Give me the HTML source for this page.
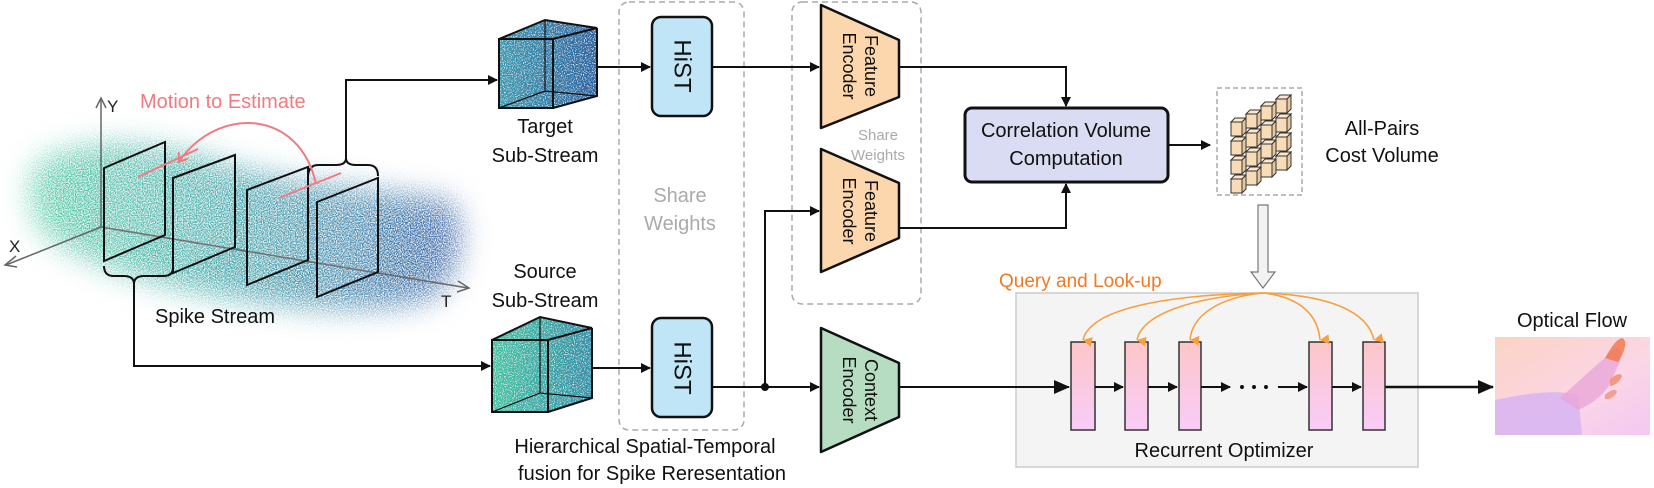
<!DOCTYPE html>
<html><head><meta charset="utf-8"><style>
html,body{margin:0;padding:0;background:#fff;}
svg{display:block;font-family:"Liberation Sans",sans-serif;}
</style></head><body>
<svg width="1654" height="488" viewBox="0 0 1654 488" xmlns="http://www.w3.org/2000/svg">
<defs>
<marker id="ah" markerWidth="10" markerHeight="10" refX="9" refY="5" orient="auto" markerUnits="userSpaceOnUse"><path d="M0,0 L10,5 L0,10 z" fill="#111"/></marker>
<marker id="ahb" markerWidth="16" markerHeight="14" refX="15" refY="7" orient="auto" markerUnits="userSpaceOnUse"><path d="M0,0 L16,7 L0,14 z" fill="#111"/></marker>
<marker id="ao" markerWidth="10" markerHeight="10" refX="5" refY="9" orient="auto-start-reverse" markerUnits="userSpaceOnUse"><path d="M0,0 L5,9 L10,0 z" fill="#f7a040"/></marker>
<marker id="ap" markerWidth="12" markerHeight="12" refX="6" refY="6" orient="auto" markerUnits="userSpaceOnUse"><path d="M0,0 L8,6 L0,12" fill="none" stroke="#f07a80" stroke-width="2"/></marker>
<linearGradient id="cloud" x1="0" x2="1" y1="0" y2="0"><stop offset="0" stop-color="#4fcaa0"/><stop offset="0.45" stop-color="#2f9ea2"/><stop offset="1" stop-color="#2a55a0"/></linearGradient>
<linearGradient id="cubeT" x1="0" x2="1"><stop offset="0" stop-color="#3a9ab0"/><stop offset="1" stop-color="#2b64a2"/></linearGradient>
<linearGradient id="cubeS" x1="0" x2="1"><stop offset="0" stop-color="#45c4a4"/><stop offset="1" stop-color="#2f8fa8"/></linearGradient>
<linearGradient id="blk" x1="0" x2="0" y1="0" y2="1"><stop offset="0" stop-color="#fdc6c8"/><stop offset="1" stop-color="#f8ccf8"/></linearGradient>
<linearGradient id="of" x1="0" x2="1" y1="0" y2="1"><stop offset="0" stop-color="#fbd3c4"/><stop offset="0.6" stop-color="#fbd6e6"/><stop offset="1" stop-color="#f3c8f3"/></linearGradient>
<filter id="dots" x="-10%" y="-30%" width="120%" height="160%">
<feGaussianBlur in="SourceGraphic" stdDeviation="14" result="b"/>
<feTurbulence type="fractalNoise" baseFrequency="0.85" numOctaves="1" seed="5" result="n"/>
<feColorMatrix in="n" type="matrix" values="0 0 0 0 0  0 0 0 0 0  0 0 0 0 0  0 0 0 -2.5 1.8" result="m"/>
<feComposite in="b" in2="m" operator="in"/>
</filter>
<filter id="speck" x="0" y="0" width="100%" height="100%">
<feTurbulence type="fractalNoise" baseFrequency="0.9" numOctaves="1" seed="3" result="n"/>
<feColorMatrix in="n" type="matrix" values="0 0 0 0 1  0 0 0 0 1  0 0 0 0 1  0 0 0 -4 1.9" result="w"/>
<feComposite in="w" in2="SourceGraphic" operator="in" result="wi"/>
<feMerge><feMergeNode in="SourceGraphic"/><feMergeNode in="wi"/></feMerge>
</filter>
<g id="cc"><rect x="0" y="4" width="11" height="14" fill="#f8dcb8" stroke="#333" stroke-width="1"/><polygon points="0,4 4,0 15,0 11,4" fill="#fbe7cc" stroke="#333" stroke-width="1"/><polygon points="11,4 15,0 15,14 11,18" fill="#e9c79c" stroke="#333" stroke-width="1"/></g>
</defs>

<g filter="url(#dots)">
<path d="M40,160 C90,135 160,140 230,165 C300,185 380,190 450,200 C470,230 460,280 430,300 C370,315 300,310 240,300 C170,290 90,270 45,235 C25,210 25,180 40,160 Z" fill="url(#cloud)"/>
</g>

<g stroke="#666" stroke-width="1.5" fill="none">
<line x1="101" y1="227" x2="101" y2="99"/><path d="M96,108 L101,98 L106,108"/>
<line x1="101" y1="227" x2="6" y2="265"/><path d="M16,256 L5,265 L17,267"/>
<line x1="101" y1="227" x2="468" y2="288"/><path d="M458,281 L469,288 L457,292"/>
</g>
<text x="107" y="112" font-size="17" fill="#222">Y</text>
<text x="9" y="252" font-size="17" fill="#222">X</text>
<text x="441" y="307" font-size="17" fill="#222">T</text>

<g stroke="#111" stroke-width="2" fill="rgba(255,255,255,0.08)">
<polygon points="104,168 165,142 165,235 104,261"/>
<polygon points="173,178 235,155 235,247 173,273"/>
<polygon points="247,190 308,167 308,260 247,285"/>
<polygon points="317,202 378,178 378,272 317,297"/>
</g>
<g stroke="#111" stroke-width="2" fill="none">
<path d="M104,266 Q104,276 114,276 L124,276 Q134,276 134,284 Q134,276 144,276 L163,276 Q173,276 173,268"/>
<path d="M308,178 Q308,165 318,165 L336,165 Q346,165 346,158 Q346,165 356,165 L368,165 Q378,165 378,176"/>
<polyline points="134,284 134,366 490,366" marker-end="url(#ah)"/>
<polyline points="346,158 346,80 497,80" marker-end="url(#ah)"/>
</g>

<text x="140" y="108" font-size="20" fill="#f07a80">Motion to Estimate</text>
<path d="M316,184 C300,110 220,105 180,160" fill="none" stroke="#f07a80" stroke-width="2" marker-end="url(#ap)"/>
<line x1="138" y1="177" x2="198" y2="149" stroke="#f07a80" stroke-width="2"/>
<line x1="279" y1="198" x2="341" y2="173" stroke="#f07a80" stroke-width="2"/>
<text x="155" y="323" font-size="20" fill="#111">Spike Stream</text>

<polygon points="499,39 545,20 597,28 597,96 553,108 499,108" fill="url(#cubeT)" filter="url(#speck)"/>
<g stroke="#111" stroke-width="2" fill="none">
<rect x="499" y="39" width="54" height="69"/>
<polyline points="499,39 545,20 597,28 553,39"/>
<polyline points="597,28 597,96 553,108"/>
<polyline points="499,108 545,91 597,96" stroke-width="1.2"/>
<line x1="545" y1="20" x2="545" y2="91" stroke-width="1.2"/>
</g>
<text x="545" y="133" font-size="20" fill="#111" text-anchor="middle">Target</text>
<text x="545" y="162" font-size="20" fill="#111" text-anchor="middle">Sub-Stream</text>

<polygon points="492,340 540,317 592,328 592,398 548,412 492,412" fill="url(#cubeS)" filter="url(#speck)"/>
<g stroke="#111" stroke-width="2" fill="none">
<rect x="492" y="340" width="56" height="72"/>
<polyline points="492,340 540,317 592,328 548,340"/>
<polyline points="592,328 592,398 548,412"/>
<polyline points="492,412 540,393 592,398" stroke-width="1.2"/>
<line x1="540" y1="317" x2="540" y2="393" stroke-width="1.2"/>
</g>
<text x="545" y="278" font-size="20" fill="#111" text-anchor="middle">Source</text>
<text x="545" y="307" font-size="20" fill="#111" text-anchor="middle">Sub-Stream</text>

<rect x="619" y="2" width="125" height="428" rx="10" fill="none" stroke="#aaa" stroke-width="1.5" stroke-dasharray="6,4"/>
<rect x="792" y="2" width="129" height="302" rx="10" fill="none" stroke="#aaa" stroke-width="1.5" stroke-dasharray="6,4"/>
<text x="680" y="202" font-size="20" fill="#aaa" text-anchor="middle">Share</text>
<text x="680" y="230" font-size="20" fill="#aaa" text-anchor="middle">Weights</text>
<text x="878" y="140" font-size="15" fill="#aaa" text-anchor="middle">Share</text>
<text x="878" y="160" font-size="15" fill="#aaa" text-anchor="middle">Weights</text>

<rect x="1016" y="293" width="402" height="174" fill="#f4f4f4" stroke="#ccc" stroke-width="1.5"/>

<rect x="652" y="17" width="60" height="99" rx="9" fill="#bfe5f6" stroke="#111" stroke-width="2.5"/>
<rect x="652" y="318" width="60" height="99" rx="9" fill="#bfe5f6" stroke="#111" stroke-width="2.5"/>
<text transform="translate(682,66) rotate(90)" font-size="24" text-anchor="middle" dominant-baseline="central" fill="#111">HiST</text>
<text transform="translate(682,368) rotate(90)" font-size="24" text-anchor="middle" dominant-baseline="central" fill="#111">HiST</text>

<polygon points="821,5 899,40 899,97 821,128" fill="#fcd7ad" stroke="#111" stroke-width="2.5" stroke-linejoin="round"/>
<polygon points="821,149 899,183 899,238 821,272" fill="#fcd7ad" stroke="#111" stroke-width="2.5" stroke-linejoin="round"/>
<polygon points="821,328 899,363 899,417 821,452" fill="#b6dcc2" stroke="#111" stroke-width="2.5" stroke-linejoin="round"/>
<g font-size="18" fill="#111" text-anchor="middle" dominant-baseline="central">
<text transform="translate(871,66) rotate(90)">Feature</text>
<text transform="translate(849,66) rotate(90)">Encoder</text>
<text transform="translate(871,211) rotate(90)">Feature</text>
<text transform="translate(849,211) rotate(90)">Encoder</text>
<text transform="translate(871,390) rotate(90)">Context</text>
<text transform="translate(849,390) rotate(90)">Encoder</text>
</g>

<g stroke="#111" stroke-width="2" fill="none">
<line x1="597" y1="67" x2="650" y2="67" marker-end="url(#ah)"/>
<line x1="712" y1="67" x2="819" y2="67" marker-end="url(#ah)"/>
<line x1="592" y1="368" x2="650" y2="368" marker-end="url(#ah)"/>
<line x1="712" y1="387" x2="819" y2="387" marker-end="url(#ah)"/>
<polyline points="765,387 765,211 819,211" marker-end="url(#ah)"/>
<polyline points="899,67 1066,67 1066,106" marker-end="url(#ah)"/>
<polyline points="899,228 1066,228 1066,184" marker-end="url(#ah)"/>
<line x1="1168" y1="145" x2="1210" y2="145" marker-end="url(#ah)"/>
<line x1="899" y1="387" x2="1069" y2="387" marker-end="url(#ahb)"/>
<line x1="1385" y1="387" x2="1493" y2="387" stroke-width="2.5" marker-end="url(#ahb)"/>
</g>
<circle cx="765" cy="387" r="4" fill="#111"/>

<rect x="965" y="108" width="203" height="74" rx="7" fill="#d9dcf2" stroke="#111" stroke-width="3"/>
<text x="1066" y="137" font-size="20" fill="#111" text-anchor="middle">Correlation Volume</text>
<text x="1066" y="165" font-size="20" fill="#111" text-anchor="middle">Computation</text>

<rect x="1217" y="88" width="85" height="107" fill="none" stroke="#aaa" stroke-width="1.5" stroke-dasharray="5,3"/>
<use href="#cc" x="1231" y="118"/><use href="#cc" x="1246" y="110"/><use href="#cc" x="1261" y="102"/><use href="#cc" x="1276" y="95"/>
<use href="#cc" x="1231" y="137"/><use href="#cc" x="1246" y="129"/><use href="#cc" x="1261" y="121"/><use href="#cc" x="1276" y="114"/>
<use href="#cc" x="1231" y="156"/><use href="#cc" x="1246" y="148"/><use href="#cc" x="1261" y="140"/><use href="#cc" x="1276" y="133"/>
<use href="#cc" x="1231" y="175"/><use href="#cc" x="1246" y="167"/><use href="#cc" x="1261" y="159"/><use href="#cc" x="1276" y="152"/>
<text x="1382" y="135" font-size="20" fill="#111" text-anchor="middle">All-Pairs</text>
<text x="1382" y="162" font-size="20" fill="#111" text-anchor="middle">Cost Volume</text>

<path d="M1258,205 L1268,205 L1268,272 L1275,272 L1263,288 L1251,272 L1258,272 Z" fill="#f2f2f2" stroke="#777" stroke-width="1.2"/>

<text x="999" y="287" font-size="19" fill="#f07a24">Query and Look-up</text>
<g fill="url(#blk)" stroke="#333" stroke-width="1.5">
<rect x="1071" y="342" width="24" height="88"/>
<rect x="1125" y="342" width="23" height="88"/>
<rect x="1179" y="342" width="22" height="88"/>
<rect x="1309" y="342" width="23" height="88"/>
<rect x="1363" y="342" width="22" height="88"/>
</g>
<g stroke="#111" stroke-width="2">
<line x1="1095" y1="387" x2="1123" y2="387" marker-end="url(#ah)"/>
<line x1="1148" y1="387" x2="1177" y2="387" marker-end="url(#ah)"/>
<line x1="1201" y1="387" x2="1230" y2="387" marker-end="url(#ah)"/>
<line x1="1278" y1="387" x2="1307" y2="387" marker-end="url(#ah)"/>
<line x1="1332" y1="387" x2="1361" y2="387" marker-end="url(#ah)"/>
</g>
<g fill="#111"><circle cx="1242" cy="387" r="2"/><circle cx="1254" cy="387" r="2"/><circle cx="1266" cy="387" r="2"/></g>
<g fill="none" stroke="#f7a040" stroke-width="1.6">
<path d="M1263,293 C1160,295 1090,310 1083,340" marker-end="url(#ao)"/>
<path d="M1263,293 C1190,297 1142,315 1137,340" marker-end="url(#ao)"/>
<path d="M1263,293 C1220,297 1192,315 1190,340" marker-end="url(#ao)"/>
<path d="M1263,293 C1300,297 1318,315 1320,340" marker-end="url(#ao)"/>
<path d="M1263,293 C1330,295 1368,312 1374,340" marker-end="url(#ao)"/>
</g>
<text x="1224" y="457" font-size="20" fill="#111" text-anchor="middle">Recurrent Optimizer</text>

<text x="1572" y="327" font-size="20" fill="#111" text-anchor="middle">Optical Flow</text>
<rect x="1495" y="337" width="155" height="98" fill="url(#of)"/>
<path d="M1495,400 C1530,392 1560,390 1578,395 L1582,435 L1495,435 Z" fill="#d9b6f2" opacity="0.9"/>
<path d="M1560,398 C1575,385 1590,370 1605,358 C1612,350 1618,345 1620,350 C1625,356 1615,370 1612,380 C1605,395 1590,405 1578,410 Z" fill="#e9a6d8" opacity="0.8"/>
<path d="M1605,358 C1610,350 1615,340 1622,338 C1628,340 1625,352 1618,362 Z" fill="#f07a50" opacity="0.85"/>
<path d="M1610,380 C1614,375 1620,372 1622,376 C1620,382 1614,386 1610,386 Z" fill="#f08a6a" opacity="0.8"/>
<path d="M1605,395 C1610,390 1616,388 1617,392 C1614,398 1608,400 1605,399 Z" fill="#f08a6a" opacity="0.7"/>

<text x="645" y="453" font-size="20" fill="#111" text-anchor="middle">Hierarchical Spatial-Temporal</text>
<text x="652" y="480" font-size="20" fill="#111" text-anchor="middle">fusion for Spike Reresentation</text>
</svg>
</body></html>
